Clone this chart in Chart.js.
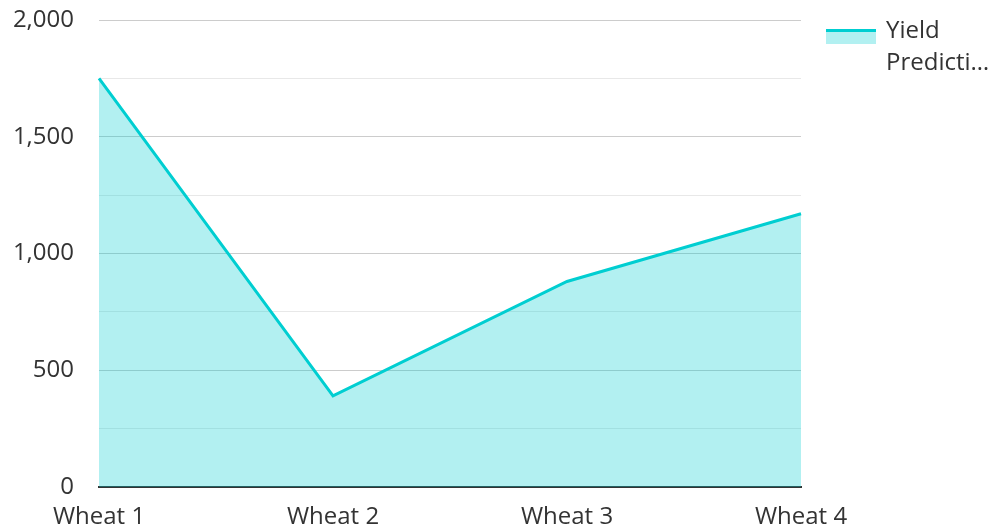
<!DOCTYPE html>
<html><head><meta charset="utf-8">
<script src="https://cdn.jsdelivr.net/npm/chart.js@4"></script>
<style>
html,body{margin:0;padding:0;background:#fff;}
#wrap{position:relative;width:993px;height:526px;}
#legend{position:absolute;left:826px;top:13px;font-family:"Open Sans";font-size:24px;color:#333;line-height:32px;}
#legend .sw{position:absolute;left:0;top:16px;width:50px;height:15px;background:rgba(0,206,209,0.3);border-top:3px solid #00CED1;box-sizing:border-box;}
#legend .tx{position:absolute;left:60px;top:0;white-space:nowrap;}
</style></head>
<body><div id="wrap"><canvas id="c" width="993" height="526"></canvas>
<div id="legend"><div class="sw"></div><div class="tx">Yield<br>Predicti…</div></div></div>
<script>
const categories = ["Wheat 1","Wheat 2","Wheat 3","Wheat 4"];
const yieldValues = [1750, 390, 880, 1170];
const seriesName = "Yield Prediction";
const lineColor = "#00CED1";
const fillColor = "rgba(0,206,209,0.3)";
Chart.defaults.font.family = "'Open Sans'";
Chart.defaults.font.size = 24;
Chart.defaults.color = "#333";
new Chart(document.getElementById('c'), {
  type: 'line',
  data: { labels: categories, datasets: [{
    label: seriesName, data: yieldValues, borderColor: lineColor, backgroundColor: fillColor,
    fill: 'origin', borderWidth: 3, tension: 0, pointRadius: 0
  }]},
  options: {
    responsive: false, animation: false,
    layout: { padding: { left: 10, right: 192, top: 20, bottom: 0 } },
    plugins: { legend: { display: false }, tooltip: { enabled: false } },
    scales: {
      x: { offset: false, grid: { display: false }, border: { color: '#333', width: 2 },
           ticks: { padding: 8, maxRotation: 0, autoSkip: false },
           afterFit: s => { s.height = 39; s.paddingLeft = 0; s.paddingRight = 0; } },
      y: { min: 0, max: 2000, border: { display: false },
           grid: { drawTicks: false, color: ctx => (ctx.tick && ctx.tick.value % 500 === 0) ? '#cccccc' : '#e8e8e8', lineWidth: 1 },
           ticks: { stepSize: 250, padding: 25, callback: v => v % 500 === 0 ? v.toLocaleString('en-US') : '' },
           afterFit: s => { s.width = 89; s.paddingTop = 0; s.paddingBottom = 0; } }
    }
  }
});
</script></body></html>
